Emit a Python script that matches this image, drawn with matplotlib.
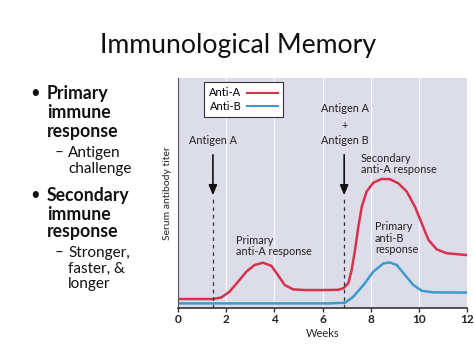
import matplotlib
matplotlib.use("Agg")
import matplotlib.pyplot as plt
from matplotlib.lines import Line2D

# ---- data (weeks, titer in arbitrary units 0-100) ----
anti_a_weeks = [0, 1.45, 1.8, 2.14, 2.49, 2.84, 3.18, 3.53, 3.88, 4.15, 4.43, 4.78, 5.26, 6.0, 6.64,
                6.87, 7.07, 7.21, 7.35, 7.49, 7.63, 7.83, 8.11, 8.46, 8.8, 9.15, 9.5, 9.84, 10.12,
                10.4, 10.74, 11.16, 12]
anti_a_titer = [3.9, 3.9, 4.6, 7.1, 11.4, 15.8, 18.7, 19.7, 18.3, 14.3, 10.0, 8.1, 7.8, 7.8, 7.9,
                8.6, 10.7, 16.5, 25.2, 35.4, 44.0, 50.6, 54.5, 56.1, 56.0, 54.2, 50.6, 44.0, 36.8,
                29.6, 25.5, 23.8, 23.0]
anti_b_weeks = [0, 6.31, 6.94, 7.28, 7.7, 8.11, 8.53, 8.8, 9.08, 9.43, 9.77, 10.12, 10.6, 12]
anti_b_titer = [2.0, 2.0, 2.3, 4.9, 10.0, 15.8, 19.4, 19.8, 18.7, 14.3, 10.0, 7.5, 6.8, 6.7]
x_ticks = [0, 2, 4, 6, 8, 10, 12]
antigen_weeks = [1.45, 6.9]

title = "Immunological Memory"
bullets = [
    ("Primary", True, 47, 93), ("immune", True, 47, 113), ("response", True, 47, 132),
    ("Antigen", False, 68, 153), ("challenge", False, 68, 169),
    ("Secondary", True, 47, 195), ("immune", True, 47, 214), ("response", True, 47, 232),
    ("Stronger,", False, 68, 253), ("faster, &", False, 68, 269), ("longer", False, 68, 284),
]
bullet_marks = [("•", 30, 93), ("–", 55, 153), ("•", 30, 195), ("–", 55, 253)]

RED = "#d8304f"
BLUE = "#3a9ccc"
BG = "#dcdde9"
W, H = 474, 355

plt.rcParams['font.family'] = ['Lato', 'DejaVu Sans']
fig = plt.figure(figsize=(W / 100, H / 100), dpi=100)
fig.patch.set_facecolor("white")

def px(x, y):
    return x / W, 1 - y / H

fig.text(*px(238, 46), title, ha="center", va="center", fontsize=19.2, color="#111111")
for s, bold, x, y in bullets:
    fig.text(*px(x, y), s, ha="left", va="center", fontsize=12.7 if bold else 11,
             fontweight="bold" if bold else "normal", color="#111111")
for s, x, y in bullet_marks:
    fig.text(*px(x, y), s, ha="left", va="center", fontsize=12 if s == "•" else 11, color="#111111")

ax = fig.add_axes([178 / W, 1 - 308 / H, (467 - 178) / W, (308 - 78) / H])
ax.set_facecolor(BG)
ax.set_xlim(0, 12)
ax.set_ylim(0, 100)
for x in x_ticks[1:-1]:
    ax.axvline(x, color="white", lw=0.9, alpha=0.8, zorder=0)

ax.plot(anti_a_weeks, anti_a_titer, color=RED, lw=1.8, solid_capstyle="round", solid_joinstyle="round")
ax.plot(anti_b_weeks, anti_b_titer, color=BLUE, lw=1.8, solid_capstyle="round", solid_joinstyle="round")

for xw in antigen_weeks:
    ax.plot([xw, xw], [0, 47.8], ls=(0, (3, 3)), color="#333333", lw=0.9)
    ax.annotate("", xy=(xw, 47.8), xytext=(xw, 67.8),
                arrowprops=dict(arrowstyle="-|>,head_width=0.25,head_length=0.6", color="#111111", lw=1.2))
tk = dict(fontsize=7.8, color="#222222")
fig.text(*px(213, 141), "Antigen A", ha="center", va="center", **tk)
fig.text(*px(345, 108), "Antigen A", ha="center", va="center", **tk)
fig.text(*px(345, 125), "+", ha="center", va="center", **tk)
fig.text(*px(345, 141), "Antigen B", ha="center", va="center", **tk)
fig.text(*px(361, 164), "Secondary\nanti-A response", ha="left", va="center", linespacing=1.05, **tk)
fig.text(*px(236, 246), "Primary\nanti-A response", ha="left", va="center", linespacing=1.05, **tk)
fig.text(*px(375, 238), "Primary\nanti-B\nresponse", ha="left", va="center", linespacing=1.05, **tk)

handles = [Line2D([], [], color=RED, lw=1.5), Line2D([], [], color=BLUE, lw=1.5)]
leg = ax.legend(handles, ["Anti-A", "Anti-B"], loc="upper left", bbox_to_anchor=(0.072, 1.005),
                markerfirst=False, fontsize=8, frameon=True, fancybox=False, handlelength=2.8,
                borderpad=0.45, labelspacing=0.2, handletextpad=0.5)
leg.get_frame().set_edgecolor("#333333")
leg.get_frame().set_linewidth(0.8)
leg.get_frame().set_facecolor("white")
leg.get_frame().set_alpha(1)

for side in ["top", "right"]:
    ax.spines[side].set_visible(False)
ax.spines["left"].set_color("#555555")
ax.spines["bottom"].set_color("#333333")
ax.spines["bottom"].set_linewidth(1.2)
ax.set_yticks([])
ax.set_xticks(x_ticks)
ax.set_xticklabels([str(t) for t in x_ticks], fontsize=8.5, color="#222222", fontweight="bold")
ax.tick_params(axis="x", length=3, width=1, color="#333333", pad=1.5)
ax.set_xlabel("Weeks", fontsize=8, color="#222222", labelpad=2)
ax.set_ylabel("Serum antibody titer", fontsize=7.5, color="#222222", labelpad=4)

fig.savefig("out.png", dpi=100, facecolor="white")
